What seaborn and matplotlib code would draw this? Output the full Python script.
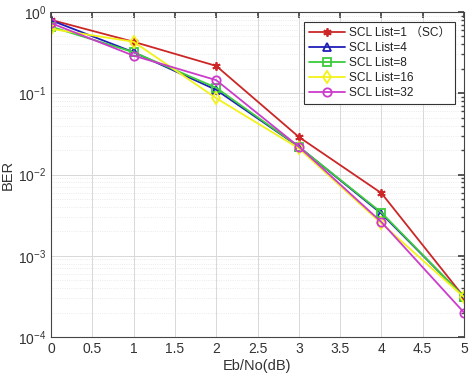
import numpy as np
import pandas as pd
import matplotlib
matplotlib.use('Agg')
import matplotlib.pyplot as plt
import seaborn as sns

# values
ebno = [0, 1, 2, 3, 4, 5]
ber_list1 = [0.80, 0.43, 0.217, 0.029, 0.0059, 0.00031]
ber_list4 = [0.79, 0.32, 0.110, 0.022, 0.0033, 0.00031]
ber_list8 = [0.66, 0.32, 0.117, 0.022, 0.0034, 0.00031]
ber_list16 = [0.62, 0.43, 0.087, 0.021, 0.0025, 0.00031]
ber_list32 = [0.73, 0.29, 0.145, 0.022, 0.0026, 0.00020]

labels = ['SCL List=1 （SC）', 'SCL List=4', 'SCL List=8', 'SCL List=16', 'SCL List=32']
colors = ['#cc2626', '#1f1fb8', '#3ccc3c', '#f2f21a', '#cc3ccc']
markers = [(6, 2, 0), '^', 's', 'd', 'o']

rows = []
for lab, vals in zip(labels, [ber_list1, ber_list4, ber_list8, ber_list16, ber_list32]):
    for x, v in zip(ebno, vals):
        rows.append({'Eb/No(dB)': x, 'BER': v, 'series': lab})
df = pd.DataFrame(rows)

sns.set_theme(style='white')
plt.rcParams['font.family'] = ['Liberation Sans', 'Noto Sans CJK SC', 'DejaVu Sans']
plt.rcParams['mathtext.fontset'] = 'custom'
plt.rcParams['mathtext.rm'] = 'Liberation Sans'

fig = plt.figure(figsize=(4.74, 3.78), dpi=100)
ax = fig.add_axes([51/474, 1-337/378, (464-51)/474, (337-12)/378])

for lab, col, mk in zip(labels, colors, markers):
    sub = df[df['series'] == lab]
    sns.lineplot(data=sub, x='Eb/No(dB)', y='BER', ax=ax, color=col, marker=mk,
                 markersize=6, markerfacecolor='none',
                 markeredgecolor=col, markeredgewidth=1.3, linewidth=1.3, label=lab)

ax.set_yscale('log')
ax.set_xlim(0, 5)
ax.set_ylim(1e-4, 1)
ax.set_xticks(np.arange(0, 5.01, 0.5))
ax.set_xticklabels(['0', '0.5', '1', '1.5', '2', '2.5', '3', '3.5', '4', '4.5', '5'])
ax.set_yticks([1e-4, 1e-3, 1e-2, 1e-1, 1])
ax.set_yticklabels([r'$10^{-4}$', r'$10^{-3}$', r'$10^{-2}$', r'$10^{-1}$', r'$10^{0}$'])

txt = '#333333'
ax.grid(True, which='major', color='#d8d8d8', linewidth=0.7)
ax.grid(True, which='minor', axis='y', color='#e4e4e4', linewidth=0.6, linestyle=':')
ax.tick_params(which='both', direction='in', top=True, right=True, colors='#444444',
               labelcolor=txt, labelsize=10)
ax.tick_params(which='major', length=4)
ax.tick_params(which='minor', length=2)
for s in ax.spines.values():
    s.set_color('#444444')
    s.set_linewidth(0.8)

ax.set_xlabel('Eb/No(dB)', fontsize=10.5, color=txt, labelpad=2)
ax.set_ylabel('BER', fontsize=10.5, color=txt, labelpad=2)

leg = ax.legend(loc='upper right', bbox_to_anchor=(0.978, 0.969), fontsize=8.6,
                frameon=True, fancybox=False, edgecolor='#333333', framealpha=1,
                handlelength=3.0, handletextpad=0.35, borderpad=0.4, labelspacing=0.26,
                borderaxespad=0)
leg.get_frame().set_linewidth(0.8)
for t in leg.get_texts():
    t.set_color('#222222')

fig.savefig('out.png', dpi=100)
